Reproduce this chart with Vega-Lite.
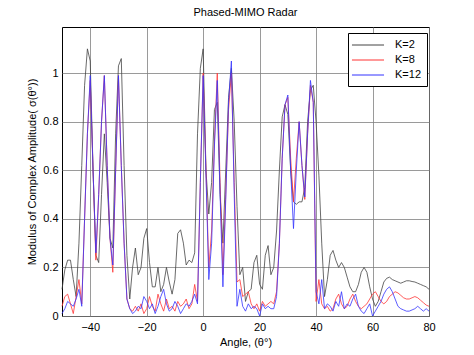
{
  "$schema": "https://vega.github.io/schema/vega-lite/v6.json",
  "width": 367,
  "height": 289,
  "autosize": {"type": "none"},
  "padding": {"left": 62, "top": 27, "right": 45, "bottom": 39},
  "background": "white",
  "title": {"text": "Phased-MIMO Radar", "fontSize": 11, "fontWeight": "normal", "font": "Liberation Sans", "offset": 9, "color": "black"},
  "config": {
    "view": {"stroke": "black", "strokeWidth": 1},
    "axis": {
      "labelFont": "Liberation Sans", "labelFontSize": 11, "labelColor": "black",
      "titleFont": "Liberation Sans", "titleFontSize": 11, "titleFontWeight": "normal", "titleColor": "black",
      "gridColor": "#808080", "gridWidth": 0.8, "gridOpacity": 1,
      "ticks": false, "domain": false
    }
  },
  "data": {"values": [
    {"a": -50, "K=2": 0.11, "K=8": 0.04, "K=12": 0.01},
    {"a": -49, "K=2": 0.19, "K=8": 0.08, "K=12": 0.03},
    {"a": -48, "K=2": 0.23, "K=8": 0.09, "K=12": 0.06},
    {"a": -47, "K=2": 0.23, "K=8": 0.05, "K=12": 0.05},
    {"a": -46, "K=2": 0.15, "K=8": 0.01, "K=12": 0.04},
    {"a": -45, "K=2": 0.08, "K=8": 0.08, "K=12": 0.07},
    {"a": -44, "K=2": 0.3, "K=8": 0.15, "K=12": 0.11},
    {"a": -43, "K=2": 0.62, "K=8": 0.05, "K=12": 0.04},
    {"a": -42, "K=2": 0.95, "K=8": 0.4, "K=12": 0.4},
    {"a": -41, "K=2": 1.1, "K=8": 0.75, "K=12": 0.75},
    {"a": -40, "K=2": 1.05, "K=8": 0.97, "K=12": 0.99},
    {"a": -39, "K=2": 0.6, "K=8": 0.6, "K=12": 0.6},
    {"a": -38, "K=2": 0.25, "K=8": 0.23, "K=12": 0.26},
    {"a": -37, "K=2": 0.22, "K=8": 0.5, "K=12": 0.5},
    {"a": -36, "K=2": 0.5, "K=8": 0.8, "K=12": 0.8},
    {"a": -35, "K=2": 0.75, "K=8": 0.99, "K=12": 0.99},
    {"a": -34, "K=2": 0.55, "K=8": 0.62, "K=12": 0.62},
    {"a": -33, "K=2": 0.32, "K=8": 0.32, "K=12": 0.32},
    {"a": -32, "K=2": 0.28, "K=8": 0.18, "K=12": 0.21},
    {"a": -31, "K=2": 0.75, "K=8": 0.6, "K=12": 0.6},
    {"a": -30, "K=2": 1.03, "K=8": 0.99, "K=12": 0.99},
    {"a": -29, "K=2": 1.06, "K=8": 0.62, "K=12": 0.62},
    {"a": -28, "K=2": 0.62, "K=8": 0.3, "K=12": 0.3},
    {"a": -27, "K=2": 0.25, "K=8": 0.07, "K=12": 0.07},
    {"a": -26, "K=2": 0.07, "K=8": 0.03, "K=12": 0.03},
    {"a": -25, "K=2": 0.2, "K=8": 0.02, "K=12": 0.01},
    {"a": -24, "K=2": 0.28, "K=8": 0.04, "K=12": 0.02},
    {"a": -23, "K=2": 0.17, "K=8": 0.02, "K=12": 0.04},
    {"a": -22, "K=2": 0.2, "K=8": 0.05, "K=12": 0.03},
    {"a": -21, "K=2": 0.32, "K=8": 0.01, "K=12": 0.08},
    {"a": -20, "K=2": 0.36, "K=8": 0.03, "K=12": 0.06},
    {"a": -19, "K=2": 0.22, "K=8": 0.08, "K=12": 0.03},
    {"a": -18, "K=2": 0.12, "K=8": 0.04, "K=12": 0.05},
    {"a": -17, "K=2": 0.12, "K=8": 0.02, "K=12": 0.01},
    {"a": -16, "K=2": 0.2, "K=8": 0.09, "K=12": 0.04},
    {"a": -15, "K=2": 0.1, "K=8": 0.05, "K=12": 0.08},
    {"a": -14, "K=2": 0.13, "K=8": 0.02, "K=12": 0.11},
    {"a": -13, "K=2": 0.2, "K=8": 0.07, "K=12": 0.05},
    {"a": -12, "K=2": 0.14, "K=8": 0.03, "K=12": 0.02},
    {"a": -11, "K=2": 0.09, "K=8": 0.04, "K=12": 0.03},
    {"a": -10, "K=2": 0.15, "K=8": 0.02, "K=12": 0.06},
    {"a": -9, "K=2": 0.34, "K=8": 0.06, "K=12": 0.04},
    {"a": -8, "K=2": 0.355, "K=8": 0.04, "K=12": 0.01},
    {"a": -7, "K=2": 0.3, "K=8": 0.05, "K=12": 0.03},
    {"a": -6, "K=2": 0.21, "K=8": 0.07, "K=12": 0.05},
    {"a": -5, "K=2": 0.23, "K=8": 0.03, "K=12": 0.04},
    {"a": -4, "K=2": 0.22, "K=8": 0.05, "K=12": 0.06},
    {"a": -3, "K=2": 0.26, "K=8": 0.13, "K=12": 0.09},
    {"a": -2, "K=2": 0.75, "K=8": 0.06, "K=12": 0.05},
    {"a": -1, "K=2": 1.02, "K=8": 0.55, "K=12": 0.55},
    {"a": 0, "K=2": 1.1, "K=8": 1.0, "K=12": 0.99},
    {"a": 1, "K=2": 0.6, "K=8": 0.6, "K=12": 0.58},
    {"a": 2, "K=2": 0.42, "K=8": 0.2, "K=12": 0.15},
    {"a": 3, "K=2": 0.55, "K=8": 0.35, "K=12": 0.3},
    {"a": 4, "K=2": 0.85, "K=8": 0.72, "K=12": 0.7},
    {"a": 5, "K=2": 0.88, "K=8": 1.0, "K=12": 0.97},
    {"a": 6, "K=2": 0.5, "K=8": 0.55, "K=12": 0.5},
    {"a": 7, "K=2": 0.3, "K=8": 0.17, "K=12": 0.12},
    {"a": 8, "K=2": 0.6, "K=8": 0.5, "K=12": 0.48},
    {"a": 9, "K=2": 0.9, "K=8": 0.85, "K=12": 0.88},
    {"a": 10, "K=2": 1.02, "K=8": 1.0, "K=12": 1.05},
    {"a": 11, "K=2": 0.8, "K=8": 0.55, "K=12": 0.5},
    {"a": 12, "K=2": 0.45, "K=8": 0.14, "K=12": 0.04},
    {"a": 13, "K=2": 0.17, "K=8": 0.15, "K=12": 0.11},
    {"a": 14, "K=2": 0.2, "K=8": 0.08, "K=12": 0.04},
    {"a": 15, "K=2": 0.06, "K=8": 0.09, "K=12": 0.02},
    {"a": 16, "K=2": 0.1, "K=8": 0.1, "K=12": 0.05},
    {"a": 17, "K=2": 0.11, "K=8": 0.05, "K=12": 0.03},
    {"a": 18, "K=2": 0.22, "K=8": 0.03, "K=12": 0.04},
    {"a": 19, "K=2": 0.25, "K=8": 0.05, "K=12": 0.03},
    {"a": 20, "K=2": 0.13, "K=8": 0.02, "K=12": 0.0},
    {"a": 21, "K=2": 0.11, "K=8": 0.06, "K=12": 0.05},
    {"a": 22, "K=2": 0.25, "K=8": 0.04, "K=12": 0.03},
    {"a": 23, "K=2": 0.29, "K=8": 0.05, "K=12": 0.04},
    {"a": 24, "K=2": 0.17, "K=8": 0.06, "K=12": 0.03},
    {"a": 25, "K=2": 0.2, "K=8": 0.05, "K=12": 0.03},
    {"a": 26, "K=2": 0.35, "K=8": 0.1, "K=12": 0.08},
    {"a": 27, "K=2": 0.6, "K=8": 0.3, "K=12": 0.3},
    {"a": 28, "K=2": 0.82, "K=8": 0.65, "K=12": 0.65},
    {"a": 29, "K=2": 0.87, "K=8": 0.87, "K=12": 0.87},
    {"a": 30, "K=2": 0.83, "K=8": 0.9, "K=12": 0.91},
    {"a": 31, "K=2": 0.6, "K=8": 0.65, "K=12": 0.6},
    {"a": 32, "K=2": 0.47, "K=8": 0.47, "K=12": 0.36},
    {"a": 33, "K=2": 0.46, "K=8": 0.65, "K=12": 0.6},
    {"a": 34, "K=2": 0.47, "K=8": 0.8, "K=12": 0.8},
    {"a": 35, "K=2": 0.47, "K=8": 0.62, "K=12": 0.62},
    {"a": 36, "K=2": 0.53, "K=8": 0.48, "K=12": 0.49},
    {"a": 37, "K=2": 0.8, "K=8": 0.75, "K=12": 0.75},
    {"a": 38, "K=2": 0.93, "K=8": 0.95, "K=12": 0.97},
    {"a": 39, "K=2": 0.95, "K=8": 0.88, "K=12": 0.88},
    {"a": 40, "K=2": 0.8, "K=8": 0.06, "K=12": 0.1},
    {"a": 41, "K=2": 0.58, "K=8": 0.15, "K=12": 0.05},
    {"a": 42, "K=2": 0.3, "K=8": 0.05, "K=12": 0.15},
    {"a": 43, "K=2": 0.08, "K=8": 0.03, "K=12": 0.03},
    {"a": 44, "K=2": 0.15, "K=8": 0.04, "K=12": 0.05},
    {"a": 45, "K=2": 0.25, "K=8": 0.02, "K=12": 0.04},
    {"a": 46, "K=2": 0.27, "K=8": 0.03, "K=12": 0.02},
    {"a": 47, "K=2": 0.23, "K=8": 0.07, "K=12": 0.06},
    {"a": 48, "K=2": 0.2, "K=8": 0.09, "K=12": 0.04},
    {"a": 49, "K=2": 0.22, "K=8": 0.05, "K=12": 0.1},
    {"a": 50, "K=2": 0.2, "K=8": 0.03, "K=12": 0.03},
    {"a": 51, "K=2": 0.16, "K=8": 0.04, "K=12": 0.05},
    {"a": 52, "K=2": 0.12, "K=8": 0.07, "K=12": 0.04},
    {"a": 53, "K=2": 0.1, "K=8": 0.09, "K=12": 0.07},
    {"a": 54, "K=2": 0.1, "K=8": 0.06, "K=12": 0.09},
    {"a": 55, "K=2": 0.13, "K=8": 0.04, "K=12": 0.04},
    {"a": 56, "K=2": 0.18, "K=8": 0.03, "K=12": 0.02},
    {"a": 57, "K=2": 0.2, "K=8": 0.04, "K=12": 0.01},
    {"a": 58, "K=2": 0.18, "K=8": 0.05, "K=12": 0.03},
    {"a": 59, "K=2": 0.12, "K=8": 0.07, "K=12": 0.05},
    {"a": 60, "K=2": 0.07, "K=8": 0.09, "K=12": 0.0},
    {"a": 61, "K=2": 0.04, "K=8": 0.1, "K=12": 0.02},
    {"a": 62, "K=2": 0.06, "K=8": 0.08, "K=12": 0.04},
    {"a": 63, "K=2": 0.1, "K=8": 0.06, "K=12": 0.06},
    {"a": 64, "K=2": 0.14, "K=8": 0.05, "K=12": 0.09},
    {"a": 65, "K=2": 0.155, "K=8": 0.06, "K=12": 0.11},
    {"a": 66, "K=2": 0.16, "K=8": 0.08, "K=12": 0.12},
    {"a": 67, "K=2": 0.15, "K=8": 0.09, "K=12": 0.1},
    {"a": 68, "K=2": 0.145, "K=8": 0.1, "K=12": 0.07},
    {"a": 69, "K=2": 0.14, "K=8": 0.095, "K=12": 0.04},
    {"a": 70, "K=2": 0.135, "K=8": 0.085, "K=12": 0.03},
    {"a": 71, "K=2": 0.14, "K=8": 0.075, "K=12": 0.025},
    {"a": 72, "K=2": 0.145, "K=8": 0.07, "K=12": 0.02},
    {"a": 73, "K=2": 0.145, "K=8": 0.07, "K=12": 0.02},
    {"a": 74, "K=2": 0.142, "K=8": 0.075, "K=12": 0.025},
    {"a": 75, "K=2": 0.14, "K=8": 0.08, "K=12": 0.03},
    {"a": 76, "K=2": 0.135, "K=8": 0.075, "K=12": 0.04},
    {"a": 77, "K=2": 0.13, "K=8": 0.065, "K=12": 0.03},
    {"a": 78, "K=2": 0.125, "K=8": 0.055, "K=12": 0.02},
    {"a": 79, "K=2": 0.12, "K=8": 0.045, "K=12": 0.03},
    {"a": 80, "K=2": 0.11, "K=8": 0.04, "K=12": 0.02}
  ]},
  "transform": [{"fold": ["K=2", "K=8", "K=12"], "as": ["K", "value"]}],
  "mark": {"type": "line", "strokeWidth": 0.8},
  "encoding": {
    "x": {"field": "a", "type": "quantitative", "scale": {"domain": [-50, 80], "nice": false, "zero": false},
      "axis": {"values": [-40, -20, 0, 20, 40, 60, 80], "title": "Angle, (θ°)", "labelPadding": 5, "titlePadding": 4, "labelFlush": false}},
    "y": {"field": "value", "type": "quantitative", "scale": {"domain": [0, 1.19], "nice": false},
      "axis": {"values": [0, 0.2, 0.4, 0.6, 0.8, 1], "format": "~g", "title": "Modulus of Complex Amplitude( σ(θ°))", "labelPadding": 4, "titlePadding": 5, "labelFlush": false}},
    "color": {"field": "K", "type": "nominal",
      "scale": {"domain": ["K=2", "K=8", "K=12"], "range": ["#444444", "#ff3333", "#3333ff"]},
      "legend": {"orient": "none", "legendX": 286, "legendY": 6, "title": null, "symbolType": "M-3,0H3", "symbolSize": 114, "symbolStrokeWidth": 1,
        "symbolOffset": 8, "labelFont": "Liberation Sans", "labelFontSize": 11, "labelColor": "black", "labelOffset": 21, "rowPadding": 4,
        "padding": 6, "fillColor": "white", "strokeColor": "black"}}
  }
}
